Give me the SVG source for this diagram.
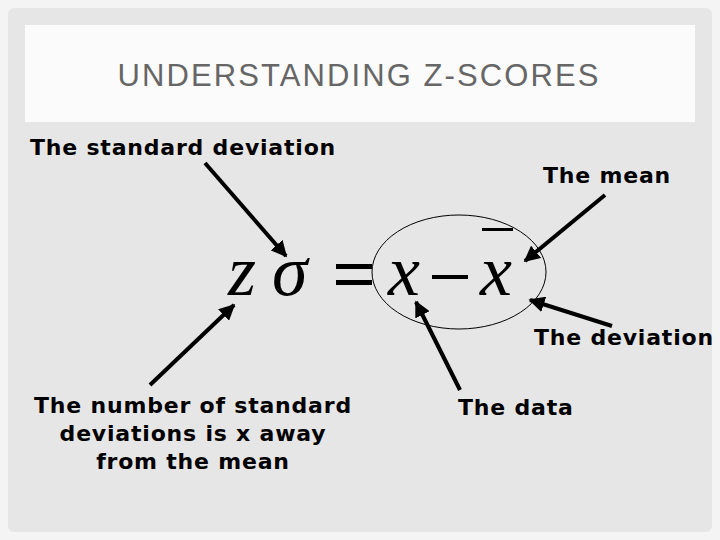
<svg xmlns="http://www.w3.org/2000/svg" width="720" height="540" viewBox="0 0 720 540">
<defs>
<marker id="ah" viewBox="0 0 10 10" refX="9" refY="5" markerWidth="4" markerHeight="4" orient="auto"><path d="M0,0L10,5L0,10z" fill="#000"/></marker>
<style>
.lbl{font-family:"DejaVu Sans",sans-serif;font-weight:bold;font-size:22px;letter-spacing:0.8px;fill:#000}
.m{font-family:"Liberation Serif",serif;font-style:italic;font-size:72px;fill:#000}
.c line{stroke:#000;stroke-width:4;marker-end:url(#ah)}
</style>
</defs>
<rect width="720" height="540" fill="#f4f4f4"/>
<rect x="8" y="8" width="704" height="524" rx="6" fill="#e6e6e6"/>
<rect x="25" y="25" width="670" height="97" fill="#fbfbfb"/>
<text x="359" y="86" text-anchor="middle" font-family="Liberation Sans,sans-serif" font-size="31" letter-spacing="2.1" fill="#666">UNDERSTANDING Z-SCORES</text>
<g id="formula">
<text class="m" x="228" y="295">z</text>
<text class="m" x="272" y="295" font-family="DejaVu Serif,serif" font-size="64">σ</text>
<rect x="336" y="264" width="36" height="5"/><rect x="336" y="280" width="36" height="5"/>
<text class="m" x="388" y="295">x</text>
<rect x="432" y="275" width="36" height="4"/>
<text class="m" x="480" y="295">x</text>
<rect x="482" y="228" width="31" height="3"/>
<ellipse cx="459" cy="272" rx="87" ry="57" fill="none" stroke="#000" stroke-width="1"/>
</g>
<g id="n1"><text class="lbl" x="30" y="155">The standard deviation</text></g>
<g id="n2"><text class="lbl" x="543" y="183">The mean</text></g>
<g id="n3"><text class="lbl" x="534" y="345">The deviation</text></g>
<g id="n4"><text class="lbl" x="458" y="415">The data</text></g>
<g id="n5" text-anchor="middle"><text class="lbl" x="193" y="413">The number of standard</text><text class="lbl" x="193" y="441">deviations is x away</text><text class="lbl" x="193" y="469">from the mean</text></g>
<g class="c">
<line x1="205" y1="163" x2="286" y2="256"/>
<line x1="605" y1="195" x2="525" y2="261"/>
<line x1="612" y1="326" x2="530" y2="300"/>
<line x1="460" y1="390" x2="416" y2="302"/>
<line x1="150" y1="385" x2="234" y2="305"/>
</g>
</svg>
